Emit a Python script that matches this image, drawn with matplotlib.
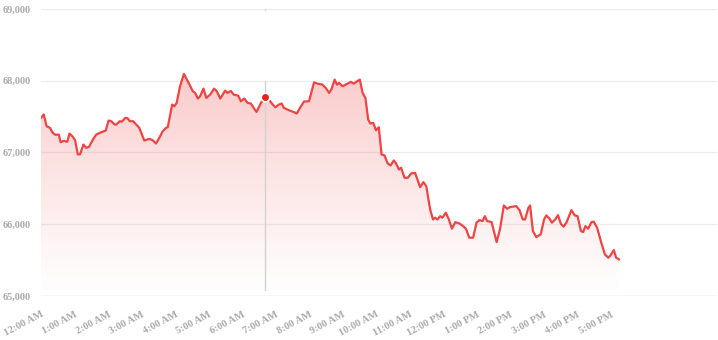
import numpy as np
import matplotlib
matplotlib.use("Agg")
import matplotlib.pyplot as plt
from matplotlib.patches import Polygon

# Intraday price, minutes since midnight and price
minutes = [0, 5, 10, 16, 21, 26, 32, 35, 41, 47, 51, 57, 61, 66, 70, 76, 81, 86, 93, 99,
           108, 116, 121, 126, 132, 135, 141, 145, 151, 155, 159, 165, 172, 176, 185, 194,
           200, 206, 212, 218, 224, 227, 235, 239, 243, 249, 256, 263, 272, 276, 281, 285,
           291, 296, 303, 310, 315, 321, 330, 334, 340, 345, 353, 358, 364, 370, 376, 382,
           386, 394, 401, 408, 414, 420, 426, 431, 435, 444, 452, 458, 465, 471, 480, 489,
           495, 504, 510, 516, 520, 526, 530, 534, 540, 548, 555, 560, 566, 571, 576, 581,
           586, 590, 595, 600, 605, 610, 615, 621, 626, 632, 636, 641, 645, 651, 657, 663,
           670, 679, 685, 690, 697, 702, 706, 710, 715, 719, 725, 730, 736, 742, 750, 756,
           761, 767, 774, 780, 785, 791, 795, 799, 807, 816, 822, 829, 835, 840, 851, 857,
           863, 867, 873, 876, 881, 887, 895, 901, 905, 911, 915, 921, 926, 931, 936, 941,
           950, 956, 961, 967, 971, 975, 980, 986, 990, 996, 1004, 1010, 1016, 1020, 1026,
           1030, 1035]
prices = [67483, 67529, 67366, 67344, 67274, 67246, 67250, 67143, 67163, 67149, 67264,
          67218, 67171, 66972, 66976, 67111, 67065, 67079, 67181, 67250, 67283, 67306,
          67445, 67436, 67390, 67390, 67436, 67431, 67483, 67477, 67436, 67436, 67376,
          67344, 67167, 67191, 67171, 67125, 67205, 67296, 67344, 67352, 67668, 67644,
          67692, 67923, 68095, 67992, 67853, 67831, 67752, 67784, 67891, 67761, 67807,
          67891, 67853, 67752, 67863, 67831, 67859, 67807, 67793, 67714, 67752, 67692,
          67682, 67608, 67566, 67692, 67770, 67738, 67678, 67630, 67668, 67682, 67622,
          67589, 67566, 67543, 67636, 67710, 67714, 67978, 67960, 67946, 67900, 67831,
          67877, 68016, 67946, 67970, 67923, 67956, 67984, 67960, 67992, 68016, 67831,
          67761, 67459, 67404, 67413, 67310, 67352, 66972, 66962, 66847, 66819, 66889,
          66847, 66763, 66787, 66648, 66648, 66708, 66717, 66517, 66587, 66531, 66207,
          66067, 66091, 66067, 66113, 66091, 66161, 66077, 65938, 66030, 66008, 65974,
          65938, 65813, 65813, 66022, 66058, 66044, 66113, 66044, 66030, 65751, 65928,
          66262, 66216, 66239, 66253, 66197, 66067, 66067, 66230, 66262, 65906, 65821,
          65859, 66067, 66123, 66077, 66022, 66067, 66127, 66008, 65966, 66022, 66197,
          66123, 66113, 65906, 65891, 65974, 65938, 66030, 66036, 65952, 65729, 65580,
          65534, 65566, 65640, 65534, 65511]

hour_ticks = list(range(18))
hour_labels = ["12:00 AM", "1:00 AM", "2:00 AM", "3:00 AM", "4:00 AM", "5:00 AM",
               "6:00 AM", "7:00 AM", "8:00 AM", "9:00 AM", "10:00 AM", "11:00 AM",
               "12:00 PM", "1:00 PM", "2:00 PM", "3:00 PM", "4:00 PM", "5:00 PM"]
price_ticks = [65000, 66000, 67000, 68000, 69000]
price_labels = ["65,000", "66,000", "67,000", "68,000", "69,000"]
hover_index = 70  # point under the crosshair

LINE = "#ef4444"
TEXT = "#ababab"

x = np.array(minutes) / 60.0
y = np.array(prices, dtype=float)

fig = plt.figure(figsize=(7.18, 3.40), dpi=100)
ax = fig.add_axes([41 / 718, 44 / 340, 676 / 718, 287 / 340])

ymin, ymax = 65000, 69000
ax.set_xlim(0, 676 / 33.5)
ax.set_ylim(ymin, ymax)

# Gradient area under the curve
top = y.max()
grad = np.linspace(0.0, 1.0, 256).reshape(-1, 1)
rgba = np.zeros((256, 1, 4))
rgba[..., 0] = 239 / 255
rgba[..., 1] = 68 / 255
rgba[..., 2] = 68 / 255
rgba[..., 3] = 0.28 * grad[:, :] ** 1.1
img = ax.imshow(rgba, extent=[x[0], x[-1], ymin, top], origin="lower",
                aspect="auto", zorder=1, interpolation="bilinear")
verts = np.vstack([[x[0], ymin], np.column_stack([x, y]), [x[-1], ymin]])
clip = Polygon(verts, closed=True, facecolor="none", edgecolor="none",
               transform=ax.transData)
ax.add_patch(clip)
img.set_clip_path(clip)

# Grid
for t in price_ticks[1:]:
    ax.axhline(t, color="#ececec", lw=0.9, zorder=0)
ax.axhline(ymin, color="#d6d6d6", lw=1.0, zorder=0)

# Crosshair
hx, hy = x[hover_index], y[hover_index]
ax.plot([hx, hx], [ymin + 80, 68000], color="#d2d2d2", lw=1.0, zorder=2)
ax.plot([hx, hx], [ymax - 15, ymax], color="#d8d8d8", lw=1.0, zorder=2)

ax.plot(x, y, color=LINE, lw=1.6, zorder=3, solid_joinstyle="round")
ax.scatter([hx], [hy], s=38, color="#f21d1d", edgecolors="white",
           linewidths=1.2, zorder=4)

for s in ax.spines.values():
    s.set_visible(False)

font = dict(family="Liberation Serif", weight="bold", size=7.5)
ax.set_yticks(price_ticks)
ax.set_yticklabels(price_labels, color=TEXT, fontdict=font)
ax.set_xticks(hour_ticks)
ax.set_xticklabels(hour_labels, color=TEXT, fontdict=font, rotation=28,
                   ha="right", va="top", rotation_mode="anchor")
ax.tick_params(axis="both", length=0)
ax.tick_params(axis="y", pad=7.5)
ax.tick_params(axis="x", pad=10)

fig.savefig("out.png", dpi=100)
